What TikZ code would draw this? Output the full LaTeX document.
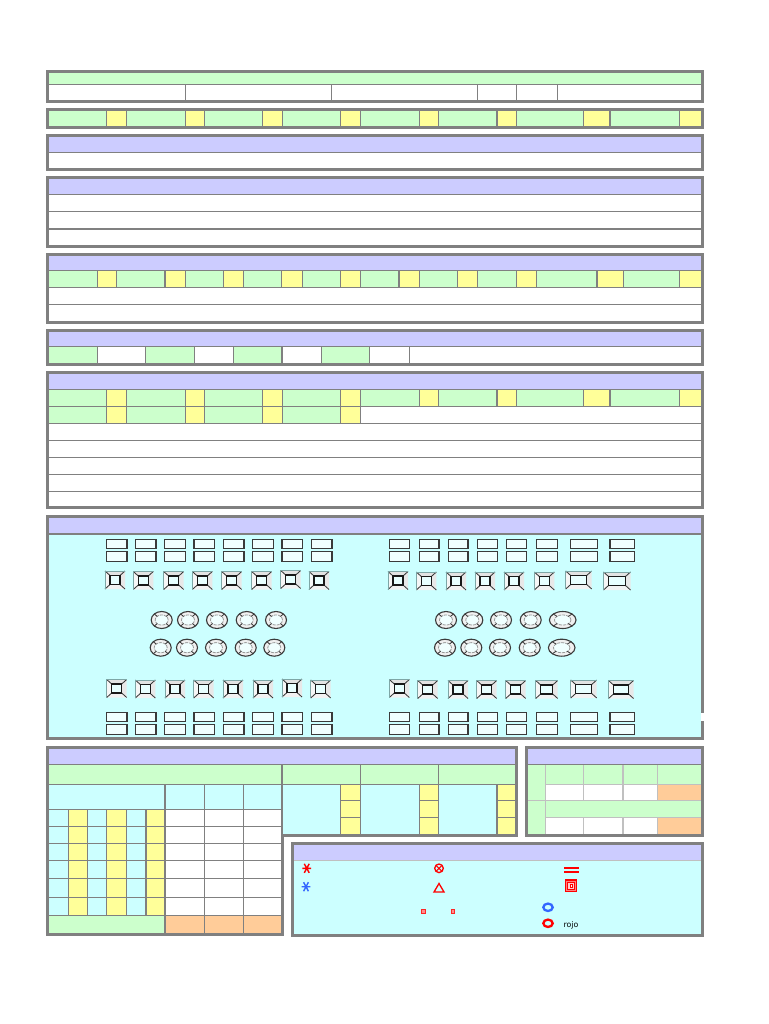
\documentclass[tikz,border=0pt]{standalone}
\usepackage{fontspec}
\setmainfont{DejaVu Sans}
\definecolor{cgreen}{HTML}{CCFFCC}
\definecolor{cyel}{HTML}{FFFF99}
\definecolor{cblue}{HTML}{CCCCFF}
\definecolor{ccyan}{HTML}{CCFFFF}
\definecolor{corange}{HTML}{FFCC99}
\definecolor{cgrid}{HTML}{808080}
\definecolor{clight}{HTML}{C0C0C0}
\definecolor{cink}{HTML}{3A3A3A}
\definecolor{cblueink}{HTML}{3366FF}
\tikzset{
  framebox/.style={draw=cgrid,line width=3pt,line join=miter},
  cellbox/.style={draw=cgrid,line width=1.15pt},
  lightcell/.style={draw=clight,line width=1.15pt},
  redsym/.style={draw=red,line width=1.3pt},
}
% cell: x0 y0 x1 y1 fill
\newcommand{\cel}[5]{\path[cellbox,fill=#5] (#1,#2) rectangle (#3,#4);}
\newcommand{\lcel}[5]{\path[lightcell,fill=#5] (#1,#2) rectangle (#3,#4);}
\newcommand{\frm}[4]{\path[framebox] (#1,#2) rectangle (#3,#4);}
% alternating row: y0 y1 then list of x1/colour, from x=47
\newcommand{\rowcells}[3]{%
  \xdef\lastx{47}%
  \edef\celllist{#3}%
  \foreach \xe/\cl in \celllist{%
    \cel{\lastx}{#1}{\xe}{#2}{\cl}%
    \xdef\lastx{\xe}%
  }%
}
\newcommand{\ruleA}{106.3/cgreen,126.7/cyel,185.3/cgreen,204.3/cyel,262.7/cgreen,282.3/cyel,340.7/cgreen,360.7/cyel}
% double rect: x0 x1
\newcommand{\rectpair}[4]{%
  \path[draw=cink,line width=1.3pt,fill=white!70!ccyan] (#1,#3) rectangle (#2,#3+9);
  \path[draw=cink,line width=1.3pt,fill=white!70!ccyan] (#1,#4) rectangle (#2,#4+10);
}
% 3D button: cx cy w h
\newcommand{\btn}[4]{%
  \pgfmathsetmacro{\xa}{#1-#3/2}\pgfmathsetmacro{\xb}{#1+#3/2}%
  \pgfmathsetmacro{\ya}{#2-#4/2}\pgfmathsetmacro{\yb}{#2+#4/2}%
  \pgfmathsetmacro{\xc}{#1-#3/2+5}\pgfmathsetmacro{\xd}{#1+#3/2-5}%
  \pgfmathsetmacro{\yc}{#2-#4/2+4.5}\pgfmathsetmacro{\yd}{#2+#4/2-4.5}%
  \fill[gray!22] (\xa,\ya)--(\xb,\ya)--(\xd,\yc)--(\xc,\yc)--cycle;
  \fill[white!93!gray] (\xa,\ya)--(\xa,\yb)--(\xc,\yd)--(\xc,\yc)--cycle;
  \fill[gray!18] (\xb,\ya)--(\xb,\yb)--(\xd,\yd)--(\xd,\yc)--cycle;
  \fill[white!90!gray] (\xa,\yb)--(\xb,\yb)--(\xd,\yd)--(\xc,\yd)--cycle;
  \draw[cink,line width=.85pt] (\xa,\ya)--(\xc,\yc) (\xb,\ya)--(\xd,\yc) (\xa,\yb)--(\xc,\yd) (\xb,\yb)--(\xd,\yd);
  \draw[gray!55!teal!70,line width=.6pt] (\xa,\yb)--(\xa,\ya)--(\xb,\ya);
  \path[draw=black!90,line width=1.35pt,fill=white!55!ccyan] (\xc,\yc) rectangle (\xd,\yd);
}
% sign oval: cx cy rx ry
\newcommand{\ovl}[4]{%
  \pgfmathsetmacro{\rxi}{#3*.62}\pgfmathsetmacro{\ryi}{#4*.6}%
  \path[draw=cink,line width=1.1pt,fill=white!88!gray] (#1,#2) ellipse [x radius=#3pt,y radius=#4pt];
  \path[draw=gray!80,line width=.8pt,dash pattern=on 3pt off 1pt,fill=white!70!ccyan] (#1,#2) ellipse [x radius=\rxi pt,y radius=\ryi pt];
  \foreach \s/\t in {1/1,1/-1,-1/1,-1/-1}{%
    \draw[cink,line width=.85pt] ({#1+\s*#3*.42},{#2+\t*#4*.42}) -- ({#1+\s*#3*.72},{#2+\t*#4*.72});
  }%
}
\begin{document}
\begin{tikzpicture}[x=1pt,y=-1pt]
\useasboundingbox (0,0) rectangle (768,1024);
\fill[white] (0,0) rectangle (768,1024);

% ---------- panel 1
\cel{47}{72}{703}{84.3}{cgreen}
\foreach \a/\b in {47/185.3,185.3/331.7,331.7/477.7,477.7/516.3,516.3/557.7,557.7/703}{\cel{\a}{84.3}{\b}{101}{white}}
\frm{47.3}{71.7}{702.7}{101.5}

% ---------- panel 2
\rowcells{110}{127}{\ruleA,419.3/cgreen,438.7/cyel,497/cgreen,516.3/cyel,583.7/cgreen,610/cyel,679.3/cgreen,703/cyel}
\frm{47.3}{109.5}{702.7}{127.3}

% ---------- panel 3
\cel{47}{135.5}{703}{152.3}{cblue}
\cel{47}{152.3}{703}{169.5}{white}
\frm{47.3}{135.3}{702.7}{169.7}

% ---------- panel 4
\cel{47}{178}{703}{194.3}{cblue}
\foreach \a/\b in {194.3/211.7,211.7/229,229/246}{\cel{47}{\a}{703}{\b}{white}}
\frm{47.3}{178}{702.7}{246}

% ---------- panel 5
\cel{47}{254.7}{703}{270.7}{cblue}
\rowcells{270.7}{287.7}{97.3/cgreen,116.7/cyel,165/cgreen,185.3/cyel,223.7/cgreen,243.7/cyel,281.7/cgreen,302.3/cyel,340.7/cgreen,360.7/cyel,399/cgreen,419.3/cyel,457.7/cgreen,477.7/cyel,516.3/cgreen,536.7/cyel,597/cgreen,623.3/cyel,679.3/cgreen,703/cyel}
\cel{47}{287.7}{703}{304.7}{white}
\cel{47}{304.7}{703}{322}{white}
\frm{47.3}{254.7}{702.7}{322}

% ---------- panel 6
\cel{47}{330.3}{703}{346.7}{cblue}
\rowcells{346.7}{364}{97.3/cgreen,145.7/white,194.3/cgreen,233.7/white,282/cgreen,321.7/white,369.7/cgreen,409.3/white,703/white}
\frm{47.3}{330.3}{702.7}{364}

% ---------- panel 7
\cel{47}{372.7}{703}{389.3}{cblue}
\rowcells{389.3}{406.3}{\ruleA,419.3/cgreen,438.7/cyel,497/cgreen,516.3/cyel,583.7/cgreen,610/cyel,679.3/cgreen,703/cyel}
\rowcells{406.3}{423.3}{\ruleA,703/white}
\foreach \a/\b in {423.3/440.3,440.3/457.3,457.3/474.3,474.3/491.3,491.3/507.3}{\cel{47}{\a}{703}{\b}{white}}
\frm{47.3}{372.7}{702.7}{507.3}

% ---------- panel 8
\cel{47}{516.7}{703}{534}{cblue}
\path[fill=ccyan,draw=cgrid,line width=1pt] (47,534) rectangle (703,738);
\frm{47.3}{516.7}{702.7}{738.3}
\fill[white] (701,712.7) rectangle (705,720.7);

\foreach \a/\b in {106.3/127,135.3/156,164.7/185.7,194/214.7,223.3/244,252.7/273.3,282/302.7,311.3/332,
                   389.7/409.7,419.3/439,448.3/468,477.7/497.3,506.3/526.3,536.3/557.7,570.3/597.3,610/634.7}{
  \rectpair{\a}{\b}{539.7}{551.3}
  \rectpair{\a}{\b}{712.3}{724.3}
}
\foreach \c/\d/\w in {115/580/20,143.3/580.5/20,173.7/580.5/20,202.3/580.5/20,231.7/580.5/20,261.7/580.5/20,290.7/579.5/20,319/580.5/20,
                      398/580.5/20,426.3/581/20,456/581/20,485/581/20,514/581/20,544.3/581/20,578.7/580/26,617/581/27}{
  \btn{\c}{\d}{\w}{18}
}
\foreach \c/\d/\w in {116.7/688.5/20,145.3/689/20,175/689/20,203.7/689/20,233/689/20,263/689/20,292/688/20,320.7/689/20,
                      399.3/688.5/20,427.7/689.5/20,458/689.5/20,486.7/689.5/20,515.7/689.5/20,546.7/689.5/22,583.7/689/26,621/689.5/25}{
  \btn{\c}{\d}{\w}{18}
}
\foreach \c in {161.7,188,217,246.7,276,446,472.3,501,530.7}{\ovl{\c}{620}{10.5}{8.5}}
\foreach \c in {160.7,187,216,245.7,274.3,445,471.3,500,529.7}{\ovl{\c}{647.7}{10.5}{8.5}}
\ovl{562.7}{620}{13.3}{8.5}
\ovl{561.7}{647.7}{13.3}{8.5}

% ---------- panel 9
\cel{47}{747.3}{516}{764.3}{cblue}
\foreach \a/\b in {47/282,282/360.7,360.7/438.7,438.7/516}{\cel{\a}{764.3}{\b}{784.3}{cgreen}}
\foreach \a/\b in {47/165,165/204.3,204.3/243.7,243.7/282}{\cel{\a}{784.3}{\b}{809.3}{ccyan}}
\foreach \a/\b in {809.3/826.3,826.3/843.3,843.3/860.3,860.3/878.3,878.3/897.7,897.7/915.7}{
  \foreach \p/\q/\cl in {47/68.3/ccyan,68.3/87.3/cyel,87.3/106.7/ccyan,106.7/126.7/cyel,126.7/146/ccyan,146/165/cyel,165/204.3/white,204.3/243.7/white,243.7/282/white}{
    \cel{\p}{\a}{\q}{\b}{\cl}
  }
}
\cel{47}{915.7}{165}{934.7}{cgreen}
\foreach \a/\b in {165/204.3,204.3/243.7,243.7/282}{\cel{\a}{915.7}{\b}{934.7}{corange}}
\foreach \p/\q/\r in {282/340.7/360.7,360.7/419.3/438.7,438.7/497/516}{
  \cel{\p}{784.3}{\q}{835}{ccyan}
  \foreach \a/\b in {784.3/800.3,800.3/817.7,817.7/835}{\cel{\q}{\a}{\r}{\b}{cyel}}
}
\path[framebox] (47.3,747.3)--(516,747.3)--(516,835)--(282,835)--(282,934.7)--(47.3,934.7)--cycle;

% ---------- panel 10
\cel{292}{843.7}{703}{860.3}{cblue}
\path[fill=ccyan,draw=clight,line width=1pt] (292,860.3) rectangle (703,935);
\frm{292}{843.7}{702.7}{935}
% symbols
\draw[red,line width=1.4pt] (302.3,868.3)--(311.2,868.3) (304.3,863.8)--(309.2,872.8) (309.2,863.8)--(304.3,872.8);
\draw[cblueink,line width=1.4pt] (301.6,886.7)--(310.4,886.7) (303.6,882.2)--(308.4,891.2) (308.4,882.2)--(303.6,891.2);
\draw[redsym] (439,868.3) circle (4.3pt);
\draw[red,line width=1.1pt] (436.3,865.6)--(441.7,871) (441.7,865.6)--(436.3,871);
\draw[red,line width=1.3pt,line join=miter] (434,892)--(439,883.5)--(444,892)--cycle;
\path[draw=red!85,line width=1pt,fill=white!55!red] (421.8,909.8) rectangle (425.6,913.6);
\path[draw=red!85,line width=1pt,fill=white!55!red] (451.1,909.8) rectangle (454.9,913.6);
\draw[red,line width=1.6pt] (564,868)--(579,868) (564,871.8)--(579,871.8);
\path[draw=red,line width=1.1pt,fill=white!50!red] (565.5,880) rectangle (576.5,891.5);
\path[draw=red,line width=.9pt,fill=white!80!red] (567.6,882.2) rectangle (574.4,889.3);
\path[draw=red,line width=.9pt,fill=white] (570,884) rectangle (572,887.5);
\draw[cblueink,line width=2.3pt] (548,907.3) ellipse [x radius=4.7pt,y radius=3.7pt];
\draw[red,line width=2.3pt] (548,923.3) ellipse [x radius=4.7pt,y radius=3.7pt];
\node[inner sep=0pt,font=\fontsize{7.8}{9}\selectfont,text=black] (rojo) at (571,925.5) {rojo};

% ---------- panel 11
\lcel{526}{747.3}{703}{764.3}{cblue}
\lcel{526}{764.3}{545.7}{800.7}{cgreen}
\lcel{526}{800.7}{545.7}{835}{cgreen}
\foreach \a/\b in {545.7/583.3,583.3/623,623/657.3,657.3/703}{\lcel{\a}{764.3}{\b}{784.3}{cgreen}}
\foreach \a/\b/\cl in {545.7/583.3/white,583.3/623/white,623/657.3/white,657.3/703/corange}{
  \lcel{\a}{784.3}{\b}{800.7}{\cl}
  \lcel{\a}{817.7}{\b}{835}{\cl}
}
\lcel{545.7}{800.7}{703}{817.7}{cgreen}
\draw[cgrid,line width=1.15pt] (526,764.3)--(703,764.3);
\frm{526}{747.3}{702.7}{835}
\end{tikzpicture}
\end{document}
